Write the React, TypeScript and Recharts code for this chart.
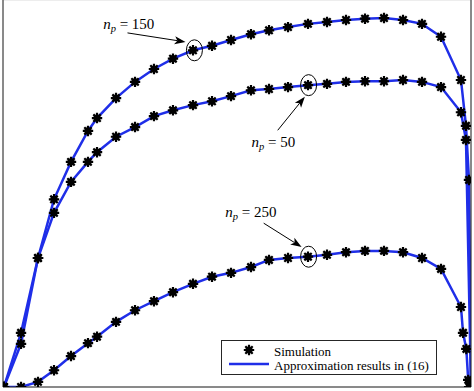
import React from 'react';
import {
  ComposedChart,
  Line,
  Scatter,
  XAxis,
  YAxis,
  CartesianGrid,
  ReferenceDot,
  ReferenceLine,
  Legend,
} from 'recharts';

// shared x positions (grid units, 0..10)
const xMain = [
  0.02, 0.385, 0.748, 1.09, 1.453, 1.816, 2.009, 2.415, 2.821, 3.226, 3.632, 4.06, 4.466,
  4.872, 5.299, 5.684, 6.09, 6.517, 6.923, 7.329, 7.735, 8.141, 8.547, 8.953, 9.359, 9.786,
];

// n_p = 150
const np150Y = [
  0, 0.84, 2.0, 2.91, 3.49, 3.97, 4.17, 4.48, 4.73, 4.93, 5.09, 5.22, 5.29, 5.38, 5.47, 5.53,
  5.58, 5.63, 5.66, 5.69, 5.71, 5.72, 5.69, 5.63, 5.43, 4.76,
];
const np150TailX = [9.893, 9.957, 10.0];
const np150TailY = [4.05, 3.21, 0];

// n_p = 50
const np50Y = [
  0, 0.67, 2.0, 2.7, 3.18, 3.49, 3.64, 3.88, 4.03, 4.2, 4.29, 4.37, 4.43, 4.51, 4.6, 4.62,
  4.65, 4.68, 4.7, 4.73, 4.74, 4.74, 4.76, 4.73, 4.65, 4.26,
];
const np50TailX = [9.893, 10.0];
const np50TailY = [3.83, 0];

// n_p = 250
const np250Y = [
  0, 0, 0.08, 0.26, 0.48, 0.68, 0.78, 1.01, 1.19, 1.33, 1.47, 1.6, 1.71, 1.77, 1.86, 1.97,
  2.0, 2.02, 2.05, 2.09, 2.11, 2.11, 2.09, 2.0, 1.83, 1.24,
];
const np250TailX = [9.83, 9.9, 9.94, 9.96];
const np250TailY = [0.84, 0.59, 0.11, 0];

const xTicks = [0, 1, 2, 3, 4, 5, 6, 7, 8, 9, 10];
const yTicks = [0, 1, 2, 3, 4, 5, 6];

const legendLabels = ['Simulation', 'Approximation results in (16)'];

const build = (xs: number[], ys: number[], tx: number[], ty: number[]) =>
  xs.map((x, i) => ({ x, y: ys[i] })).concat(tx.map((x, i) => ({ x, y: ty[i] })));

const s150 = build(xMain, np150Y, np150TailX, np150TailY);
const s50 = build(xMain, np50Y, np50TailX, np50TailY);
const s250 = build(xMain, np250Y, np250TailX, np250TailY);

const BLUE = '#1f2ee8';
const AXIS = '#262626';
const FONT = '"Liberation Serif", "Times New Roman", serif';

const Star = (props: any) => {
  const { cx, cy } = props;
  if (cx == null || cy == null) return null;
  const r = 5.2;
  const d = r * 0.7071;
  return (
    <g>
      <circle cx={cx} cy={cy} r={3.6} fill="#000" />
      <path
        d={`M${cx - r},${cy}L${cx + r},${cy}M${cx},${cy - r}L${cx},${cy + r}M${cx - d},${cy - d}L${cx + d},${cy + d}M${cx - d},${cy + d}L${cx + d},${cy - d}`}
        stroke="#000"
        strokeWidth={2.2}
      />
    </g>
  );
};

const Arrow = (props: any) => {
  const { x1, y1, x2, y2 } = props;
  if ([x1, y1, x2, y2].some((v) => v == null || isNaN(v))) return null;
  const ang = Math.atan2(y2 - y1, x2 - x1);
  const L = 11;
  const W = 4;
  const c = Math.cos(ang);
  const s = Math.sin(ang);
  const bx = x2 - L * c;
  const by = y2 - L * s;
  const nx = -s;
  const ny = c;
  const mx = x2 - 0.75 * L * c;
  const my = y2 - 0.75 * L * s;
  const pts = `${x2},${y2} ${bx + W * nx},${by + W * ny} ${mx},${my} ${bx - W * nx},${by - W * ny}`;
  return (
    <g>
      <line x1={x1} y1={y1} x2={mx} y2={my} stroke="#000" strokeWidth={1} />
      <polygon points={pts} fill="#000" />
    </g>
  );
};

const Ellipse = (props: any) => {
  const { cx, cy } = props;
  if (cx == null || cy == null) return null;
  return <ellipse cx={cx} cy={cy} rx={8} ry={10.5} fill="none" stroke="#000" strokeWidth={1} />;
};

const makeLabel = (val: string) => (props: any) => {
  const { cx, cy } = props;
  if (cx == null || cy == null) return null;
  return (
    <text x={cx} y={cy} fontFamily={FONT} fontSize={15} fill="#000">
      <tspan fontStyle="italic">n</tspan>
      <tspan fontStyle="italic" fontSize={10.5} dy={3}>
        p
      </tspan>
      <tspan dy={-3}>{` = ${val}`}</tspan>
    </text>
  );
};

const LegendBox = () => (
  <svg width={216} height={35} style={{ display: 'block' }}>
    <rect x={0.5} y={0.5} width={215} height={34} fill="#fff" stroke={AXIS} strokeWidth={1} />
    <Star cx={28} cy={10} />
    <text x={53} y={15.5} fontFamily={FONT} fontSize={13} fill="#000">
      {legendLabels[0]}
    </text>
    <line x1={8} y1={24} x2={48} y2={24} stroke={BLUE} strokeWidth={2.5} />
    <text x={53} y={29.5} fontFamily={FONT} fontSize={13} fill="#000">
      {legendLabels[1]}
    </text>
  </svg>
);

export default function App() {
  return (
    <div style={{ position: 'absolute', left: 0, top: 0, background: '#fff' }}>
      <ComposedChart width={474} height={391} margin={{ top: 0, right: 3, bottom: 4, left: 3 }}>
        <CartesianGrid stroke="#dcdcdc" strokeWidth={1} />
        <XAxis
          type="number"
          dataKey="x"
          domain={[0, 10]}
          ticks={xTicks}
          tick={false}
          mirror
          tickSize={5}
          stroke={AXIS}
          allowDataOverflow
        />
        <XAxis
          xAxisId="top"
          orientation="top"
          type="number"
          dataKey="x"
          domain={[0, 10]}
          ticks={xTicks}
          tick={false}
          mirror
          tickSize={5}
          axisLine={false}
          stroke={AXIS}
        />
        <YAxis
          type="number"
          domain={[0, 6]}
          ticks={yTicks}
          tick={false}
          mirror
          tickSize={5}
          stroke={AXIS}
          allowDataOverflow
        />
        <YAxis
          yAxisId="right"
          orientation="right"
          type="number"
          domain={[0, 6]}
          ticks={yTicks}
          tick={false}
          mirror
          tickSize={5}
          stroke={AXIS}
        />
        <Line data={s150} dataKey="y" stroke={BLUE} strokeWidth={2.5} dot={false} isAnimationActive={false} />
        <Line data={s50} dataKey="y" stroke={BLUE} strokeWidth={2.5} dot={false} isAnimationActive={false} />
        <Line data={s250} dataKey="y" stroke={BLUE} strokeWidth={2.5} dot={false} isAnimationActive={false} />
        <Scatter data={s150} dataKey="y" shape={Star} isAnimationActive={false} />
        <Scatter data={s50} dataKey="y" shape={Star} isAnimationActive={false} />
        <Scatter data={s250} dataKey="y" shape={Star} isAnimationActive={false} />

        <ReferenceDot x={4.09} y={5.22} ifOverflow="visible" shape={Ellipse} />
        <ReferenceDot x={6.53} y={4.68} ifOverflow="visible" shape={Ellipse} />
        <ReferenceDot x={6.53} y={2.02} ifOverflow="visible" shape={Ellipse} />

        <ReferenceLine
          segment={[{ x: 2.66, y: 5.49 }, { x: 3.9, y: 5.35 }]}
          ifOverflow="visible"
          shape={Arrow}
        />
        <ReferenceLine
          segment={[{ x: 5.87, y: 3.98 }, { x: 6.45, y: 4.5 }]}
          ifOverflow="visible"
          shape={Arrow}
        />
        <ReferenceLine
          segment={[{ x: 5.57, y: 2.54 }, { x: 6.38, y: 2.17 }]}
          ifOverflow="visible"
          shape={Arrow}
        />

        <ReferenceDot x={2.14} y={5.55} ifOverflow="visible" shape={makeLabel('150')} />
        <ReferenceDot x={5.31} y={3.72} ifOverflow="visible" shape={makeLabel('50')} />
        <ReferenceDot x={4.75} y={2.64} ifOverflow="visible" shape={makeLabel('250')} />

        <Legend
          layout="vertical"
          align="center"
          verticalAlign="middle"
          wrapperStyle={{ left: 221, top: 340, width: 216, height: 35, margin: 0, padding: 0 }}
          content={() => <LegendBox />}
        />
      </ComposedChart>
    </div>
  );
}
